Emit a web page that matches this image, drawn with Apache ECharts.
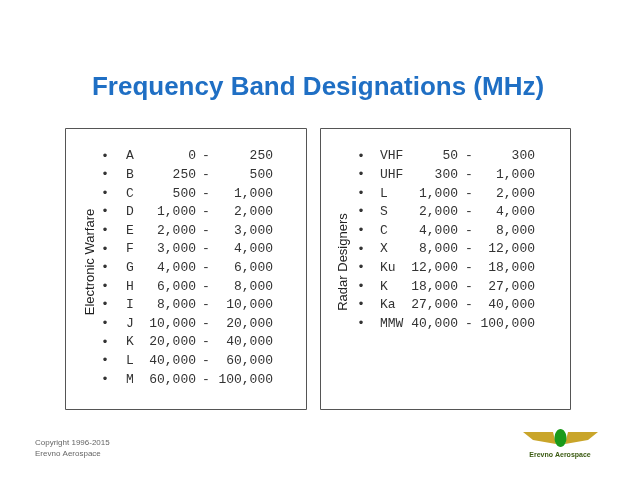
<!DOCTYPE html>
<html><head><meta charset="utf-8">
<script src="https://cdn.jsdelivr.net/npm/echarts@6/dist/echarts.min.js"></script>
<style>html,body{margin:0;padding:0;background:#fff}#c{width:638px;height:493px}</style>
</head><body><div id="c"></div>
<script>
const ewBands = ['A','B','C','D','E','F','G','H','I','J','K','L','M'];
const ewLow = ['0','250','500','1,000','2,000','3,000','4,000','6,000','8,000','10,000','20,000','40,000','60,000'];
const ewHigh = ['250','500','1,000','2,000','3,000','4,000','6,000','8,000','10,000','20,000','40,000','60,000','100,000'];
const rdBands = ['VHF','UHF','L','S','C','X','Ku','K','Ka','MMW'];
const rdLow = ['50','300','1,000','2,000','4,000','8,000','12,000','18,000','27,000','40,000'];
const rdHigh = ['300','1,000','2,000','4,000','8,000','12,000','18,000','27,000','40,000','100,000'];

const chart = echarts.init(document.getElementById('c'));
const mono = {fontFamily:'Liberation Mono', fontSize:13, fill:'#333'};
const els = [];
function txt(x,y,s,align,extra){els.push({type:'text',x:x,y:y,style:Object.assign({text:s,align:align||'left',verticalAlign:'middle'},mono,extra||{})});}
els.push({type:'text',x:318,y:88,style:{text:'Frequency Band Designations (MHz)',align:'center',verticalAlign:'middle',fontFamily:'Liberation Sans',fontWeight:'bold',fontSize:26,fill:'#1f6fc4'}});
els.push({type:'rect',shape:{x:65.5,y:128.5,width:241,height:281},style:{fill:'none',stroke:'#555',lineWidth:1}});
els.push({type:'rect',shape:{x:320.5,y:128.5,width:250,height:281},style:{fill:'none',stroke:'#555',lineWidth:1}});
els.push({type:'text',x:90,y:262,rotation:Math.PI/2,style:{text:'Electronic Warfare',align:'center',verticalAlign:'middle',fontFamily:'Liberation Sans',fontSize:13,fill:'#222'}});
els.push({type:'text',x:343,y:262,rotation:Math.PI/2,style:{text:'Radar Designers',align:'center',verticalAlign:'middle',fontFamily:'Liberation Sans',fontSize:13,fill:'#222'}});
const dy=18.6;
ewBands.forEach((b,i)=>{const y=156+i*dy;
  txt(105,y,'•','center',{fontFamily:'Liberation Sans'});txt(126,y,b);txt(196,y,ewLow[i],'right');txt(206,y,'-','center');txt(273,y,ewHigh[i],'right');});
rdBands.forEach((b,i)=>{const y=156+i*dy;
  txt(361,y,'•','center',{fontFamily:'Liberation Sans'});txt(380,y,b);txt(458,y,rdLow[i],'right');txt(469,y,'-','center');txt(535,y,rdHigh[i],'right');});
els.push({type:'text',x:35,y:443,style:{text:'Copyright 1996-2015',verticalAlign:'middle',fontFamily:'Liberation Sans',fontSize:8,fill:'#666'}});
els.push({type:'text',x:35,y:454,style:{text:'Erevno Aerospace',verticalAlign:'middle',fontFamily:'Liberation Sans',fontSize:8,fill:'#666'}});
// logo
els.push({type:'polygon',shape:{points:[[523,432],[553,432],[556,444],[533,440]]},style:{fill:'#c9a52a'}});
els.push({type:'polygon',shape:{points:[[598,432],[568,432],[565,444],[588,440]]},style:{fill:'#c9a52a'}});
els.push({type:'ellipse',shape:{cx:560.5,cy:438,rx:6,ry:9},style:{fill:'#1a9a1a'}});
els.push({type:'text',x:560,y:455,style:{text:'Erevno Aerospace',align:'center',verticalAlign:'middle',fontFamily:'Liberation Sans',fontWeight:'bold',fontSize:7,fill:'#3a5a10'}});
chart.setOption({animation:false,graphic:els});
</script></body></html>
